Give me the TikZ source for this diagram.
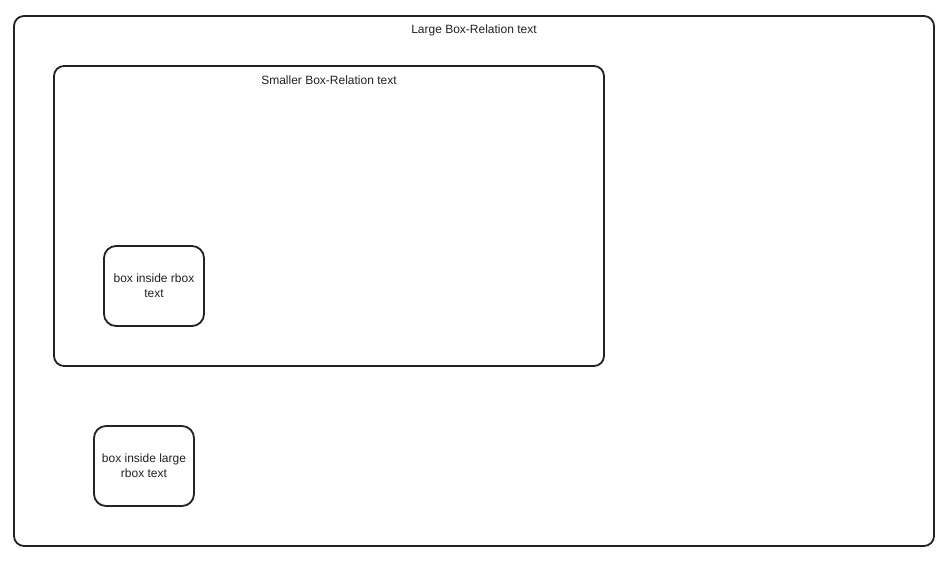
\documentclass[tikz,border=0pt]{standalone}
\usepackage{fontspec}
\setmainfont{Liberation Sans}
\begin{document}
\begin{tikzpicture}[x=1pt,y=-1pt,
  framebox/.style={draw=linec,line width=1.8pt,rounded corners=10pt},
  smallbox/.style={draw=linec,line width=1.8pt,rounded corners=12pt},
  lbl/.style={font=\fontsize{12}{15}\selectfont,text=txtc,inner sep=0pt,align=center}]
\definecolor{linec}{HTML}{222222}
\definecolor{txtc}{HTML}{222222}
\useasboundingbox[fill=white] (0,0) rectangle (949,563);
\draw[framebox] (14,16) rectangle (934,546);
\coordinate (large) at (474,30);
\node[lbl] (largelbl) at (large) {Large Box-Relation text};
\draw[framebox] (54,66) rectangle (604,366);
\node[lbl] (smalllbl) at (329,80) {Smaller Box-Relation text};
\draw[smallbox] (104,246) rectangle (204,326);
\node[lbl] (inner1) at (154,285.5) {box inside rbox\\text};
\draw[smallbox] (94,426) rectangle (194,506);
\node[lbl] (inner2) at (144,465.5) {box inside large\\rbox text};
\end{tikzpicture}
\end{document}
